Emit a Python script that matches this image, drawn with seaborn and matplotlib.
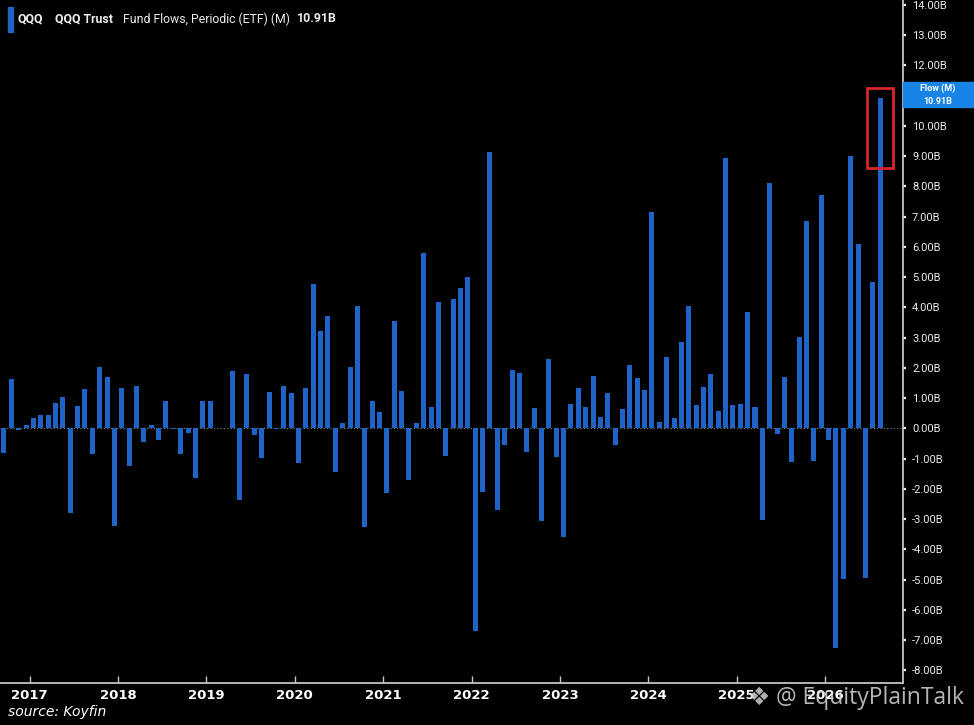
import matplotlib
matplotlib.use("Agg")
import matplotlib.pyplot as plt
import matplotlib.patches as mpatches
import seaborn as sns
import pandas as pd
import numpy as np

# ---------------- data ----------------
months = [str(p) for p in pd.period_range("2016-09", periods=120, freq="M")]
flows_b = [
    -0.82, 1.64, -0.04, 0.12, 0.35, 0.43, 0.45, 0.84, 1.03, -2.79,
    0.75, 1.29, -0.84, 2.03, 1.70, -3.22, 1.32, -1.23, 1.39, -0.45,
    0.12, -0.38, 0.91, -0.03, -0.85, -0.15, -1.63, 0.91, 0.91, 0.02,
    0.02, 1.89, -2.37, 1.78, -0.21, -0.99, 1.21, -0.03, 1.41, 1.18,
    -1.14, 1.32, 4.77, 3.22, 3.70, -1.46, 0.16, 2.03, 4.04, -3.27,
    0.89, 0.54, -2.14, 3.54, 1.22, -1.71, 0.16, 5.80, 0.69, 4.19,
    -0.90, 4.26, 4.64, 4.99, -6.70, -2.09, 9.14, -2.70, -0.55, 1.93,
    1.82, -0.78, 0.68, -3.05, 2.30, -0.95, -3.58, 0.79, 1.32, 0.71,
    1.74, 0.39, 1.16, -0.56, 0.64, 2.09, 1.67, 1.26, 7.14, 0.20,
    2.35, 0.35, 2.86, 4.05, 0.78, 1.38, 1.81, 0.58, 8.95, 0.77,
    0.82, 3.85, 0.69, -3.03, 8.10, -0.18, 1.71, -1.13, 3.02, 6.85,
    -1.09, 7.70, -0.37, -7.26, -4.98, 8.99, 6.08, -4.95, 4.84, 10.91,
]
year_labels = ["2017", "2018", "2019", "2020", "2021", "2022", "2023", "2024", "2025", "2026"]
y_ticks = list(range(-8, 15))
last_value = flows_b[-1]

df = pd.DataFrame({"month": months, "flow": flows_b})

# ---------------- style ----------------
sns.set_theme(style="dark")
plt.rcParams["font.family"] = ["Roboto", "DejaVu Sans"]
BG = "#000000"
BAR = "#1f63c6"
BOX = "#1784e6"
TXT = "#ececec"
AXC = "#c4c4c4"

W, H = 974, 725
fig = plt.figure(figsize=(W / 100, H / 100), dpi=100, facecolor=BG)
ax = fig.add_axes([0, 42 / H, 903 / W, 1 - 42 / H])
ax.set_facecolor(BG)

# dotted zero line behind bars
ax.axhline(0, color="#8a8a8a", lw=0.8, ls=(0, (1, 2)), zorder=0)

sns.barplot(data=df, x="month", y="flow", color=BAR, saturation=1,
            width=0.68, ax=ax, zorder=2, edgecolor="none")

n = len(months)
ax.set_xlim(-0.54, 122.1)
ax.set_ylim(-8.42, 14.16)

# year ticks at boundaries between Dec and Jan
year_pos = [i - 0.5 for i, m in enumerate(months) if m.endswith("-01")]
ax.set_xticks(year_pos)
ax.set_xticklabels(year_labels)
ax.set_xlabel("")
ax.set_ylabel("")

ax.yaxis.tick_right()
ax.set_yticks(y_ticks)
# the 11.00B label sits under the last-value box in the reference
ax.set_yticklabels(["" if v == 11 else f"{v:.2f}B" for v in y_ticks])

ax.tick_params(axis="y", right=True, left=False, colors=TXT, labelsize=8,
               length=2.5, width=1.6, direction="out", pad=4, labelcolor=TXT)
ax.tick_params(axis="x", bottom=True, top=False, colors=AXC, length=5, width=1,
               direction="in", pad=4, labelcolor="white")
for lbl in ax.get_xticklabels():
    lbl.set_family(["Liberation Sans Narrow", "DejaVu Sans"])
    lbl.set_fontweight("bold")
    lbl.set_fontsize(9.5)

for s in ["top", "left"]:
    ax.spines[s].set_visible(False)
for s in ["right", "bottom"]:
    ax.spines[s].set_visible(True)
    ax.spines[s].set_color(AXC)
    ax.spines[s].set_linewidth(1.3)
    ax.spines[s].set_zorder(6)
ax.grid(False)

# red highlight rectangle around last bar
ax.add_patch(mpatches.Rectangle((n - 1 - 1.75, 8.6), 3.5, 11.25 - 8.6,
                                fill=False, edgecolor="#d8262c", lw=2, zorder=5))

# ---------------- figure-level texts ----------------
def fx(px):
    return px / W

def fy(py):
    return 1 - py / H

# header
fig.patches.append(mpatches.Rectangle((fx(8), fy(32)), fx(5), 25 / H,
                                      transform=fig.transFigure, color=BAR))
hy = fy(19)
fig.text(fx(18), hy, "QQQ", color=TXT, fontsize=8.8, fontweight="bold", va="center")
fig.text(fx(55), hy, "QQQ Trust", color=TXT, fontsize=8.8, fontweight="bold", va="center")
fig.text(fx(123), hy, "Fund Flows, Periodic (ETF) (M)", color=TXT, fontsize=8.8, va="center")
fig.text(fx(297), hy, f"{last_value:.2f}B", color=TXT, fontsize=8.8, fontweight="bold", va="center")

# value box at right
fig.patches.append(mpatches.Rectangle((fx(903), fy(107)), fx(71), 25 / H,
                                      transform=fig.transFigure, color=BOX, zorder=3))
fig.text(fx(938), fy(88), "Flow (M)", color="white", fontsize=6.5,
         fontweight="bold", ha="center", va="center", zorder=4)
fig.text(fx(938), fy(101), f"{last_value:.2f}B", color="white", fontsize=6.5,
         fontweight="bold", ha="center", va="center", zorder=4)

# source
fig.text(fx(8), fy(712), "source: Koyfin", color="white", fontsize=10,
         style="italic", va="center",
         family=["Liberation Sans Narrow", "DejaVu Sans"])

# watermark
fig.text(fx(748), fy(698), "\u2756", color="#cfcfcf", fontsize=18, va="center",
         alpha=0.85, family=["DejaVu Sans"])
fig.text(fx(776), fy(698), "@ EquityPlainTalk", color="#d6d6d6", fontsize=16.5,
         va="center", alpha=0.85, family=["Open Sans", "DejaVu Sans"])

fig.savefig("out.png", dpi=100, facecolor=BG)
